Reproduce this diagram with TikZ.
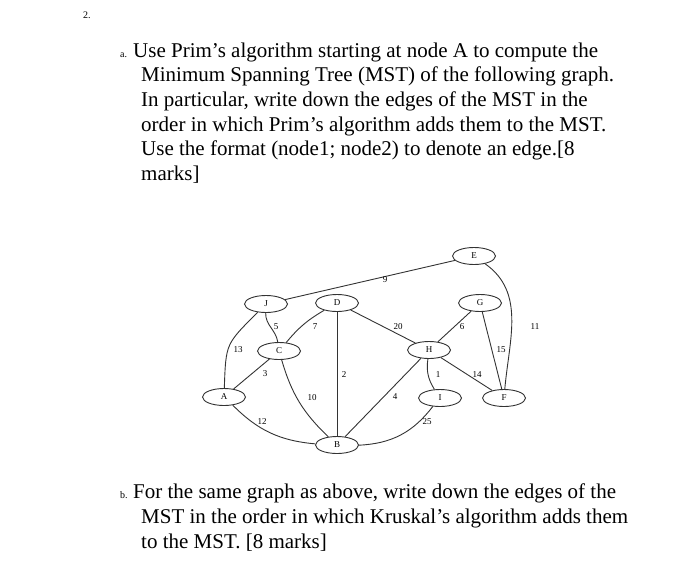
\documentclass[tikz,border=0pt]{standalone}
\usepackage{fontspec}
\setmainfont{Liberation Serif}
\usetikzlibrary{shapes.geometric}

\begin{document}
\begin{tikzpicture}[
  x = 1pt, y = 1pt,
  vtx/.style = {draw=black!80, ellipse, line width=0.9pt, inner sep=0pt,
                minimum width=43pt, minimum height=17pt, font=\fontsize{9}{9}\selectfont},
  edg/.style = {draw=black!80, line width=0.9pt},
  wt/.style  = {font=\fontsize{9}{9}\selectfont, inner sep=0pt},
  txt/.style = {anchor=base west, inner sep=0pt, font=\fontsize{21}{21}\selectfont},
  tag/.style = {anchor=base west, inner sep=0pt, font=\fontsize{10}{10}\selectfont}
]
  \useasboundingbox (0,0) rectangle (700,-574);

  % question text
  \node[tag] (num) at (83,-18) {2.};
  \node[tag] (ta) at (120,-57) {a.};
  \node[txt] (qa1) at (133,-57)   {Use Prim’s algorithm starting at node A to compute the};
  \node[txt] (qa2) at (141,-81)   {Minimum Spanning Tree (MST) of the following graph.};
  \node[txt] (qa3) at (141,-106)  {In particular, write down the edges of the MST in the};
  \node[txt] (qa4) at (141,-131)  {order in which Prim’s algorithm adds them to the MST.};
  \node[txt] (qa5) at (141,-155.5){Use the format (node1; node2) to denote an edge.[8};
  \node[txt] (qa6) at (141,-180.5){marks]};

  % graph
  \node[vtx] (E) at (474,-256) {E};
  \node[vtx] (J) at (266,-304) {J};
  \node[vtx] (D) at (337,-303) {D};
  \node[vtx] (G) at (480,-303) {G};
  \node[vtx] (C) at (279,-351) {C};
  \node[vtx] (H) at (429,-350) {H};
  \node[vtx] (A) at (224,-397) {A};
  \node[vtx] (I) at (440,-398) {I};
  \node[vtx] (F) at (504,-398) {F};
  \node[vtx] (B) at (337,-445) {B};

  \draw[edg] (J) -- (E);
  \draw[edg] (J) to[out=225, in=88, looseness=1.4] (A);
  \draw[edg] (J) to[out=-92, in=98] (C);
  \draw[edg] (D) to[bend right=10] (C);
  \draw[edg] (D) -- (B);
  \draw[edg] (D) -- (H);
  \draw[edg] (A) -- (C);
  \draw[edg] (C) to[bend right=15] (B);
  \draw[edg] (A) to[bend right=20] (B);
  \draw[edg] (B) -- (H);
  \draw[edg] (B) to[bend right=25] (I);
  \draw[edg] (H) to[bend right=20] (I);
  \draw[edg] (H) -- (G);
  \draw[edg] (H) -- (F);
  \draw[edg] (G) -- (F);
  \draw[edg] (E) to[out=-35, in=85] (F);

  % weights
  \node[wt] (w9)  at (385,-280) {9};
  \node[wt] (w13) at (238,-350) {13};
  \node[wt] (w5)  at (276,-327) {5};
  \node[wt] (w7)  at (315,-327) {7};
  \node[wt] (w3)  at (265,-374) {3};
  \node[wt] (w2)  at (344,-375) {2};
  \node[wt] (w10) at (312,-398) {10};
  \node[wt] (w12) at (262,-422) {12};
  \node[wt] (w20) at (398,-327) {20};
  \node[wt] (w6)  at (462,-327) {6};
  \node[wt] (w11) at (535,-327) {11};
  \node[wt] (w15) at (501,-350) {15};
  \node[wt] (w1)  at (438,-375) {1};
  \node[wt] (w14) at (477,-375) {14};
  \node[wt] (w4)  at (395,-397) {4};
  \node[wt] (w25) at (427,-422) {25};

  % part b
  \node[tag] (tb) at (120,-498) {b.};
  \node[txt] (qb1) at (133,-498) {For the same graph as above, write down the edges of the};
  \node[txt] (qb2) at (141,-523) {MST in the order in which Kruskal’s algorithm adds them};
  \node[txt] (qb3) at (141,-548) {to the MST. [8 marks]};
\end{tikzpicture}
\end{document}
